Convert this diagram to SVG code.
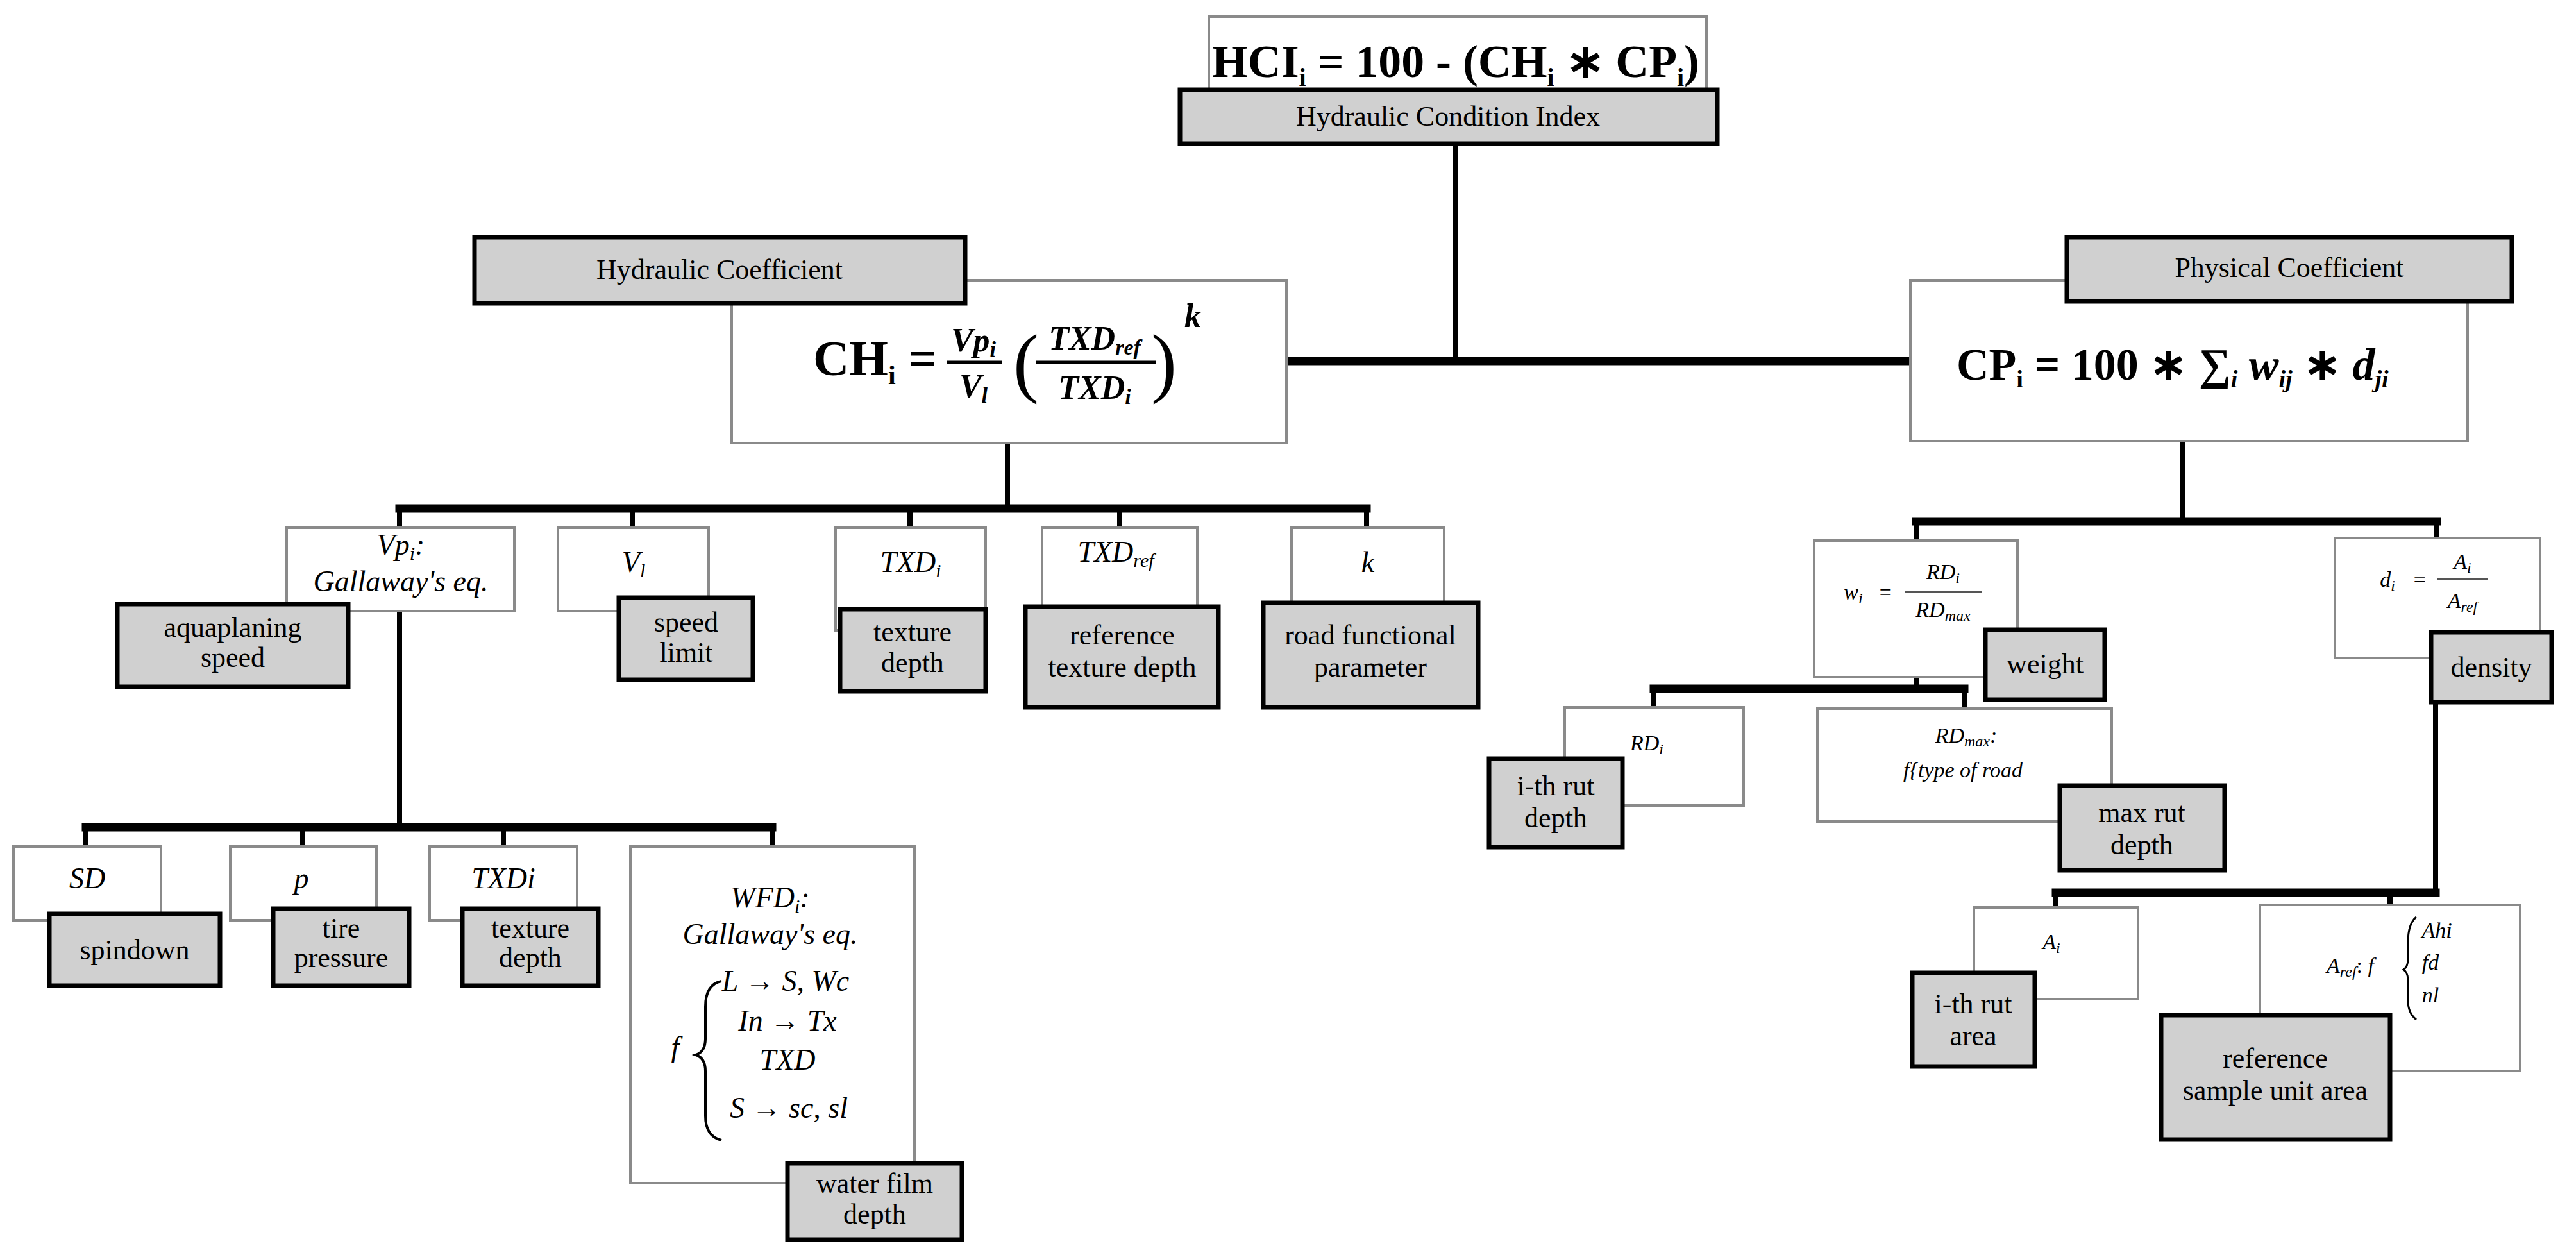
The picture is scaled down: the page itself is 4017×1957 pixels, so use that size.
<svg xmlns="http://www.w3.org/2000/svg" width="4017" height="1957" viewBox="0 0 4017 1957">
<style>
.w{fill:#fff;stroke:#8a8a8a;stroke-width:4}
.g{fill:#d0d0d0;stroke:#000;stroke-width:7}
.gt{font-family:"Liberation Serif",serif;font-size:44px;text-anchor:middle;fill:#000}
.m{font-family:"Liberation Serif",serif;font-style:italic;font-size:46px;text-anchor:middle;fill:#000}
.ms{font-family:"Liberation Serif",serif;font-style:italic;font-size:34px;text-anchor:middle;fill:#000}
.b{font-family:"Liberation Serif",serif;font-weight:bold;fill:#000}
.c{stroke:#000;fill:none;stroke-linecap:square}
</style>
<g id="connectors">
<path class="c" stroke-width="8" d="M2270 224V563M1571 691V793M623 793V823M986 793V823M1419 793V823M1746 793V823M2131 793V823M623 953V1290M134 1290V1320M472 1290V1320M785 1290V1320M1204 1290V1320M3403 688V813M2988 813V842M3800 813V838M2988 1056V1074M2579 1074V1103M3063 1074V1104M3798 1095V1392M3206 1392V1415M3727 1392V1411"/>
<path class="c" stroke-width="13" d="M2006 563H2979M623 793H2131M134 1290H1204M2988 813H3800M2579 1074H3063M3206 1392H3798"/>
</g>
<g id="hci">
<rect class="w" x="1885" y="26" width="776" height="157"/>
<text class="b" x="1890" y="120" font-size="72" textLength="760" lengthAdjust="spacingAndGlyphs">HCI<tspan font-size="40" dy="14">i</tspan><tspan dy="-14"> = 100 - (CH</tspan><tspan font-size="40" dy="14">i</tspan><tspan dy="-14"> ∗ CP</tspan><tspan font-size="40" dy="14">i</tspan><tspan dy="-14">)</tspan></text>
<rect class="g" x="1840" y="140" width="838" height="84"/>
<text class="gt" x="2258" y="196">Hydraulic Condition Index</text>
</g>
<g id="ch">
<rect class="w" x="1141" y="437" width="865" height="254"/>
<rect class="g" x="740" y="370" width="765" height="103"/>
<text class="gt" x="1122" y="435">Hydraulic Coefficient</text>
<text class="b" x="1268" y="585" font-size="78">CH<tspan font-size="42" dy="14">i</tspan><tspan dy="-14"> =</tspan></text>
<g font-family="Liberation Serif,serif" font-style="italic" font-weight="bold" font-size="52" text-anchor="middle">
<text x="1518" y="548">Vp<tspan font-size="34" dy="8">i</tspan></text>
<line x1="1476" y1="565" x2="1562" y2="565" stroke="#000" stroke-width="5"/>
<text x="1518" y="620">V<tspan font-size="34" dy="8">l</tspan></text>
<text x="1600" y="605" font-size="120" font-weight="normal" font-style="normal">(</text>
<text x="1707" y="545">TXD<tspan font-size="34" dy="8">ref</tspan></text>
<line x1="1615" y1="565" x2="1802" y2="565" stroke="#000" stroke-width="5"/>
<text x="1707" y="622">TXD<tspan font-size="34" dy="8">i</tspan></text>
<text x="1815" y="605" font-size="120" font-weight="normal" font-style="normal">)</text>
<text x="1860" y="510">k</text>
</g>
</g>
<g id="cp">
<rect class="w" x="2979" y="437" width="869" height="251"/>
<rect class="g" x="3223" y="370" width="694" height="100"/>
<text class="gt" x="3570" y="432">Physical Coefficient</text>
<text class="b" x="3051" y="592" font-size="70">CP<tspan font-size="38" dy="12">i</tspan><tspan dy="-12"> = 100 ∗ ∑</tspan><tspan font-size="38" font-style="italic" dy="12">i</tspan><tspan dy="-12" font-style="italic"> w</tspan><tspan font-size="38" font-style="italic" dy="12">ij</tspan><tspan dy="-12"> ∗ </tspan><tspan font-style="italic">d</tspan><tspan font-size="38" font-style="italic" dy="12">ji</tspan></text>
</g>
<g id="vp">
<rect class="w" x="447" y="823" width="355" height="130"/>
<text class="m" x="625" y="865">Vp<tspan font-size="30" dy="8">i</tspan><tspan dy="-8">:</tspan></text>
<text class="m" x="625" y="922">Gallaway's eq.</text>
<rect class="g" x="183" y="942" width="360" height="129"/>
<text class="gt" x="363" y="993">aquaplaning</text><text class="gt" x="363" y="1040">speed</text>
</g>
<g id="vl">
<rect class="w" x="870" y="823" width="235" height="130"/>
<text class="m" x="988" y="892">V<tspan font-size="30" dy="8">l</tspan></text>
<rect class="g" x="965" y="932" width="209" height="128"/>
<text class="gt" x="1070" y="985">speed</text><text class="gt" x="1070" y="1032">limit</text>
</g>
<g id="txdi">
<rect class="w" x="1303" y="823" width="234" height="160"/>
<text class="m" x="1420" y="892">TXD<tspan font-size="30" dy="8">i</tspan></text>
<rect class="g" x="1310" y="950" width="227" height="128"/>
<text class="gt" x="1423" y="1000">texture</text><text class="gt" x="1423" y="1048">depth</text>
</g>
<g id="txdref">
<rect class="w" x="1625" y="823" width="242" height="150"/>
<text class="m" x="1740" y="876">TXD<tspan font-size="30" dy="8">ref</tspan></text>
<rect class="g" x="1599" y="946" width="301" height="157"/>
<text class="gt" x="1750" y="1005">reference</text><text class="gt" x="1750" y="1055">texture depth</text>
</g>
<g id="k">
<rect class="w" x="2014" y="823" width="238" height="132"/>
<text class="m" x="2133" y="892">k</text>
<rect class="g" x="1970" y="940" width="335" height="163"/>
<text class="gt" x="2137" y="1005">road functional</text><text class="gt" x="2137" y="1055">parameter</text>
</g>
<g id="sd">
<rect class="w" x="21" y="1320" width="230" height="115"/>
<text class="m" x="136" y="1385">SD</text>
<rect class="g" x="77" y="1425" width="266" height="112"/>
<text class="gt" x="210" y="1496">spindown</text>
</g>
<g id="p">
<rect class="w" x="359" y="1320" width="228" height="115"/>
<text class="m" x="470" y="1385">p</text>
<rect class="g" x="426" y="1417" width="212" height="120"/>
<text class="gt" x="532" y="1462">tire</text><text class="gt" x="532" y="1508">pressure</text>
</g>
<g id="txdi2">
<rect class="w" x="670" y="1320" width="230" height="115"/>
<text class="m" x="785" y="1385">TXDi</text>
<rect class="g" x="721" y="1417" width="212" height="120"/>
<text class="gt" x="827" y="1462">texture</text><text class="gt" x="827" y="1508">depth</text>
</g>
<g id="wfd">
<rect class="w" x="983" y="1320" width="443" height="525"/>
<text class="m" x="1201" y="1415">WFD<tspan font-size="30" dy="8">i</tspan><tspan dy="-8">:</tspan></text>
<text class="m" x="1201" y="1472">Gallaway's eq.</text>
<text class="m" x="1053" y="1648">f</text>
<path d="M1125 1530 Q1100 1535 1100 1570 V1620 Q1100 1640 1085 1645 Q1100 1650 1100 1670 V1740 Q1100 1772 1125 1778" fill="none" stroke="#000" stroke-width="4"/>
<text class="m" x="1225" y="1545">L → S, Wc</text>
<text class="m" x="1228" y="1607">In → Tx</text>
<text class="m" x="1228" y="1668">TXD</text>
<text class="m" x="1230" y="1743">S → sc, sl</text>
<rect class="g" x="1228" y="1814" width="272" height="119"/>
<text class="gt" x="1364" y="1860">water film</text><text class="gt" x="1364" y="1908">depth</text>
</g>
<g id="w">
<rect class="w" x="2829" y="843" width="317" height="213"/>
<text class="ms" x="2890" y="935">w<tspan font-size="24" dy="6">i</tspan></text>
<text class="ms" x="2940" y="935" font-style="normal">=</text>
<text class="ms" x="3030" y="903">RD<tspan font-size="24" dy="6">i</tspan></text>
<line x1="2970" y1="923" x2="3090" y2="923" stroke="#555" stroke-width="4"/>
<text class="ms" x="3030" y="962">RD<tspan font-size="24" dy="6">max</tspan></text>
<rect class="g" x="3096" y="982" width="186" height="109"/>
<text class="gt" x="3189" y="1050">weight</text>
</g>
<g id="d">
<rect class="w" x="3641" y="839" width="320" height="187"/>
<text class="ms" x="3723" y="915">d<tspan font-size="24" dy="6">i</tspan></text>
<text class="ms" x="3773" y="915" font-style="normal">=</text>
<text class="ms" x="3840" y="887">A<tspan font-size="24" dy="6">i</tspan></text>
<line x1="3800" y1="903" x2="3880" y2="903" stroke="#555" stroke-width="4"/>
<text class="ms" x="3840" y="948">A<tspan font-size="24" dy="6">ref</tspan></text>
<rect class="g" x="3791" y="986" width="188" height="109"/>
<text class="gt" x="3885" y="1055">density</text>
</g>
<g id="rdi">
<rect class="w" x="2440" y="1103" width="279" height="153"/>
<text class="ms" x="2568" y="1170">RD<tspan font-size="24" dy="6">i</tspan></text>
<rect class="g" x="2322" y="1183" width="208" height="138"/>
<text class="gt" x="2426" y="1240">i-th rut</text><text class="gt" x="2426" y="1290">depth</text>
</g>
<g id="rdmax">
<rect class="w" x="2834" y="1105" width="459" height="176"/>
<text class="ms" x="3066" y="1158">RD<tspan font-size="24" dy="6">max</tspan><tspan dy="-6">:</tspan></text>
<text class="ms" x="3061" y="1212">f{type of road</text>
<rect class="g" x="3212" y="1225" width="257" height="132"/>
<text class="gt" x="3340" y="1282">max rut</text><text class="gt" x="3340" y="1332">depth</text>
</g>
<g id="ai">
<rect class="w" x="3078" y="1415" width="256" height="143"/>
<text class="ms" x="3199" y="1480">A<tspan font-size="24" dy="6">i</tspan></text>
<rect class="g" x="2982" y="1517" width="191" height="146"/>
<text class="gt" x="3077" y="1580">i-th rut</text><text class="gt" x="3077" y="1630">area</text>
</g>
<g id="aref">
<rect class="w" x="3524" y="1411" width="406" height="259"/>
<text class="ms" x="3665" y="1517">A<tspan font-size="24" dy="6">ref</tspan><tspan dy="-6" font-style="normal">: </tspan>f</text>
<path d="M3768 1430 Q3755 1440 3755 1470 V1495 Q3755 1508 3748 1512 Q3755 1516 3755 1530 V1560 Q3755 1580 3768 1590" fill="none" stroke="#000" stroke-width="3"/>
<text class="ms" x="3800" y="1462">Ahi</text>
<text class="ms" x="3790" y="1512">fd</text>
<text class="ms" x="3790" y="1563">nl</text>
<rect class="g" x="3370" y="1583" width="357" height="194"/>
<text class="gt" x="3548" y="1665">reference</text><text class="gt" x="3548" y="1715">sample unit area</text>
</g>
</svg>
